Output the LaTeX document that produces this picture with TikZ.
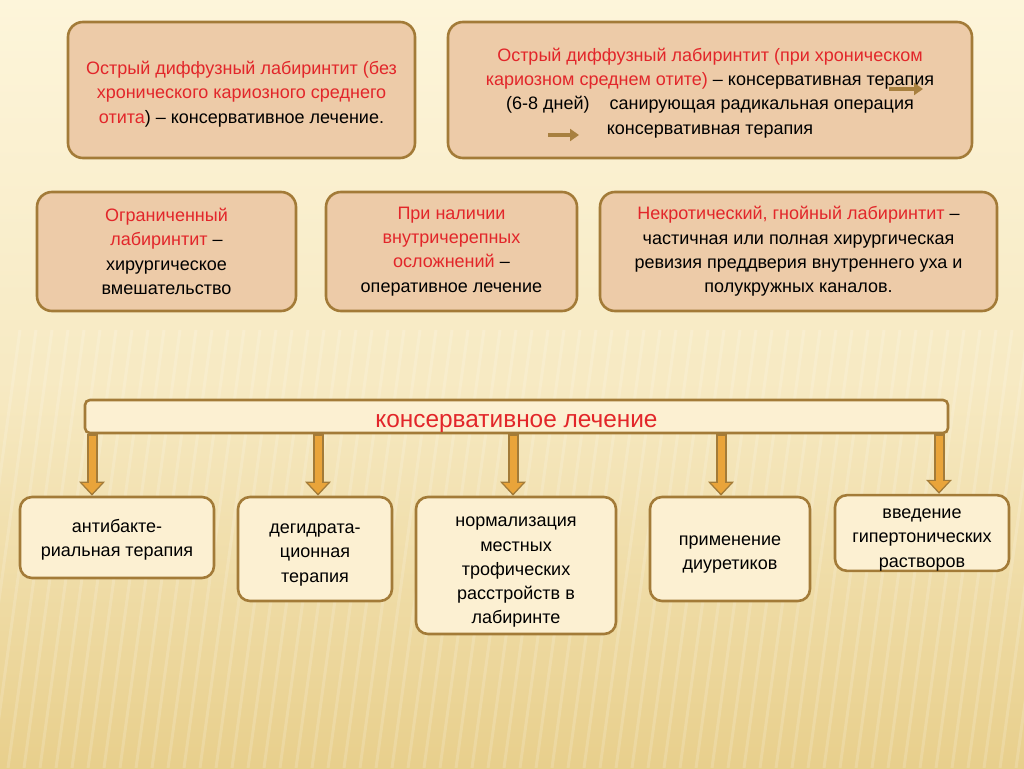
\documentclass[tikz,border=0pt]{standalone}
\usepackage{fontspec}
\setmainfont{Liberation Sans}
\usetikzlibrary{arrows.meta}
\definecolor{brd}{HTML}{A37B38}
\definecolor{peach}{HTML}{EDCBA8}
\definecolor{cream}{HTML}{FCF0D2}
\definecolor{txtred}{HTML}{E2262A}
\definecolor{arrorange}{HTML}{E9A43A}
\definecolor{arrbrown}{HTML}{A8803F}
\definecolor{bgtop}{HTML}{FDF5DA}
\definecolor{bgbot}{HTML}{E8CF8C}
\newcommand{\redtxt}[1]{\textcolor{txtred}{#1}}
\newcommand{\topgap}[1]{\rule{0pt}{#1}}
\tikzset{
  box/.style={draw=brd, line width=2.6pt, rounded corners=15pt, fill=peach, align=center, inner sep=0pt,
    font=\fontsize{18}{24.3}\selectfont},
  subbox/.style={box, fill=cream, rounded corners=12pt},
  banner/.style={draw=brd, line width=2.6pt, rounded corners=5pt, fill=cream, inner sep=0pt,
    font=\fontsize{24.4}{26}\selectfont, text=txtred},
  arrout/.style={line width=11pt, draw=brd, -{Triangle[length=14pt,width=25pt]}},
  arrin/.style={line width=7pt, draw=arrorange, shorten >=2.2pt, shorten <=1.4pt, -{Triangle[length=10.5pt,width=19pt]}},
  smallarr/.style={line width=4.5pt, draw=arrbrown, -{Triangle[length=9pt,width=12pt]}}
}
\begin{document}
\begin{tikzpicture}[x=1pt,y=-1pt]
  \useasboundingbox (0,0) rectangle (1024,768);
  % background
  \shade[top color=bgtop, bottom color=bgbot, middle color=bgtop!70!bgbot] (0,0) rectangle (1024,768);
  \foreach \i in {0,...,70}
    \draw[white, opacity=0.16, line width=3pt] (\i*16-40,768) -- (\i*16+20,330);

  % top row
  \node[box, minimum width=347pt, minimum height=136pt] (acute1) at (241.5,90)
    {\topgap{21.4pt}\redtxt{Острый диффузный лабиринтит (без}\\
     \redtxt{хронического кариозного среднего}\\
     \redtxt{отита}) – консервативное лечение.};
  \node[box, minimum width=524pt, minimum height=136pt] (acute2) at (710,90)
    {\topgap{19.4pt}\redtxt{Острый диффузный лабиринтит (при хроническом}\\
     \redtxt{кариозном среднем отите)} – консервативная терапия\\
     (6-8 дней)\hspace{20pt}санирующая радикальная операция\\
     консервативная терапия};
  \draw[smallarr] (889,89) -- (923,89);
  \draw[smallarr] (548,135) -- (579,135);

  % middle row
  \node[box, minimum width=259pt, minimum height=119pt] (limited) at (166.5,251.5)
    {\redtxt{Ограниченный}\\ \redtxt{лабиринтит} –\\ хирургическое\\ вмешательство};
  \node[box, minimum width=251pt, minimum height=119pt] (intracran) at (451.5,251.5)
    {\redtxt{При наличии}\\ \redtxt{внутричерепных}\\ \redtxt{осложнений} –\\ оперативное лечение};
  \node[box, minimum width=397pt, minimum height=119pt] (necrotic) at (798.5,251.5)
    {\redtxt{Некротический, гнойный лабиринтит} –\\ частичная или полная хирургическая\\
     ревизия преддверия внутреннего уха и\\ полукружных каналов.};

  % conservative treatment
  \node[banner, minimum width=863pt, minimum height=31pt] (banner) at (516.5,416.5)
    {\topgap{28pt}консервативное лечение};

  \node[subbox, minimum width=194pt, minimum height=81pt] (b1) at (117,537.5)
    {\topgap{17.4pt}антибакте-\\ риальная терапия};
  \node[subbox, minimum width=154pt, minimum height=104pt] (b2) at (315,549)
    {\topgap{21.4pt}дегидрата-\\ ционная\\ терапия};
  \node[subbox, minimum width=200pt, minimum height=137pt] (b3) at (516,565.5)
    {\topgap{23.4pt}нормализация\\ местных\\ трофических\\ расстройств в\\ лабиринте};
  \node[subbox, minimum width=160pt, minimum height=104pt] (b4) at (730,549)
    {\topgap{20.4pt}применение\\ диуретиков};
  \node[subbox, minimum width=174pt, minimum height=72pt] (b5) at (922,533)
    {\topgap{23.4pt}введение\\ гипертонических\\ растворов};

  \foreach \xx/\tgt in {92/b1, 318/b2, 513/b3, 721/b4, 939/b5} {
    \draw[arrout] (banner.south -| \xx,0) -- (\tgt.north -| \xx,0);
    \draw[arrin] (banner.south -| \xx,0) -- (\tgt.north -| \xx,0);
  }
\end{tikzpicture}
\end{document}
